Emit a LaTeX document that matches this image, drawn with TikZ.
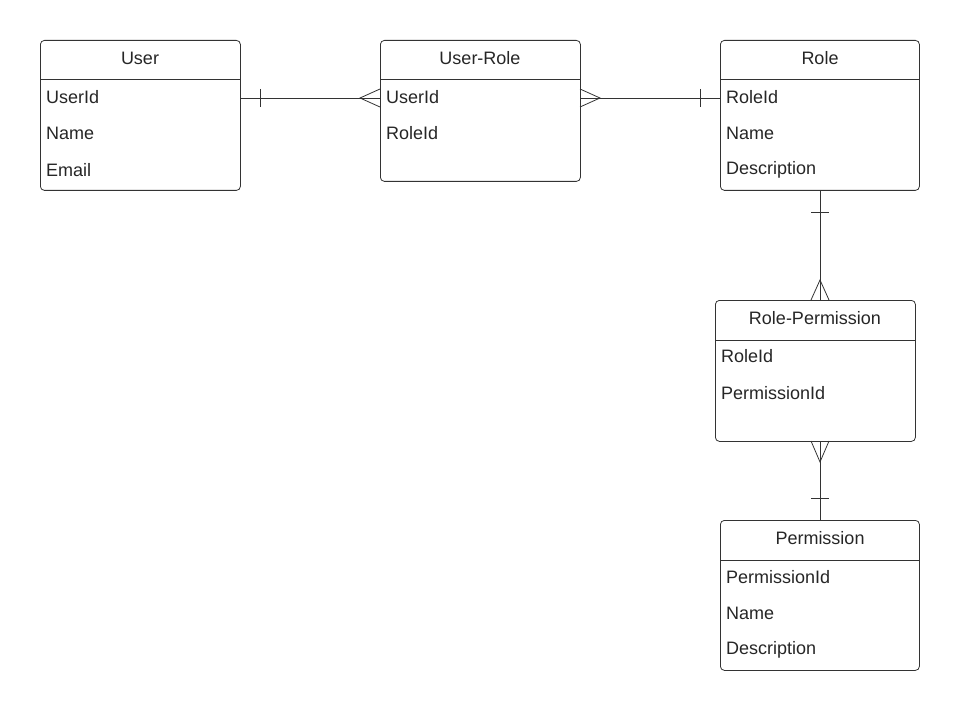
\documentclass[tikz,border=0pt]{standalone}
\usepackage{fontspec}
\setmainfont{Liberation Sans}
\begin{document}
\begin{tikzpicture}[x=1pt,y=-1pt]
  \tikzset{box/.style={draw=black!80,rounded corners=4pt,line width=0.8pt,anchor=north west,inner sep=0pt},
           field/.style={anchor=west,inner sep=0pt,font=\fontsize{18}{20}\selectfont,text=black!85},
           title/.style={anchor=center,inner sep=0pt,font=\fontsize{18}{20}\selectfont,text=black!85},
           link/.style={draw=black!80,line width=0.8pt}}
  \useasboundingbox (0,0) rectangle (960,711);
  % entities
  \node[box,minimum width=200pt,minimum height=150pt] (user) at (40,40) {};
  \node[box,minimum width=200pt,minimum height=141pt] (userrole) at (380,40) {};
  \node[box,minimum width=199pt,minimum height=150pt] (role) at (720,40) {};
  \node[box,minimum width=200pt,minimum height=141pt] (roleperm) at (715,300) {};
  \node[box,minimum width=199pt,minimum height=150pt] (perm) at (720,520) {};
  % header lines
  \draw[link] (40,79) -- (240,79);
  \draw[link] (380,79) -- (580,79);
  \draw[link] (720,79) -- (919,79);
  \draw[link] (715,340) -- (915,340);
  \draw[link] (720,560) -- (919,560);
  % titles
  \node[title] (tuser) at (140,58) {User};
  \node[title] (tuserrole) at (480,58) {User-Role};
  \node[title] (trole) at (820,58) {Role};
  \node[title] (troleperm) at (815,318) {Role-Permission};
  \node[title] (tperm) at (820,538) {Permission};
  % fields
  \node[field] (u1) at (46,97) {UserId};
  \node[field] (u2) at (46,133) {Name};
  \node[field] (u3) at (46,170) {Email};
  \node[field] (ur1) at (386,97) {UserId};
  \node[field] (ur2) at (386,133) {RoleId};
  \node[field] (r1) at (726,97) {RoleId};
  \node[field] (r2) at (726,133) {Name};
  \node[field] (r3) at (726,170) {Description};
  \node[field] (rp1) at (721,356) {RoleId};
  \node[field] (rp2) at (721,393) {PermissionId};
  \node[field] (p1) at (726,577) {PermissionId};
  \node[field] (p2) at (726,613) {Name};
  \node[field] (p3) at (726,650) {Description};
  % relations
  \coordinate (a1) at (240,98); \coordinate (a2) at (380,98);
  \draw[link] (a1) -- (a2);
  \draw[link] (260,89) -- (260,107);
  \draw[link] (380,89) -- (360,98) -- (380,107);
  \coordinate (b1) at (580,98); \coordinate (b2) at (720,98);
  \draw[link] (b1) -- (b2);
  \draw[link] (700,89) -- (700,107);
  \draw[link] (580,89) -- (600,98) -- (580,107);
  \draw[link] (role.south) -- (roleperm.north-|role.south);
  \draw[link] (811,212) -- (829,212);
  \draw[link] (811,300) -- (820,280) -- (829,300);
  \draw[link] (roleperm.south-|perm.north) -- (perm.north);
  \draw[link] (811,498) -- (829,498);
  \draw[link] (811,441) -- (820,462) -- (829,441);
\end{tikzpicture}
\end{document}
